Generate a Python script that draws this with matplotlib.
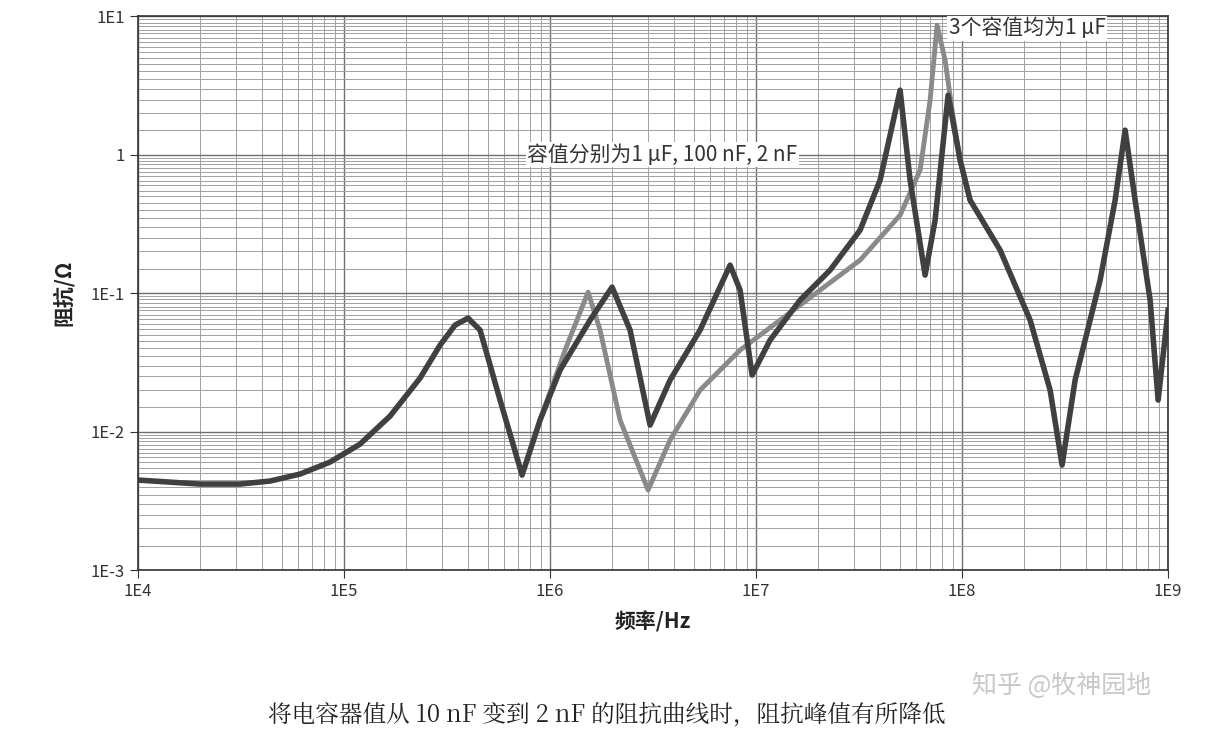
import numpy as np
import matplotlib.pyplot as plt
from matplotlib.ticker import FixedLocator, FixedFormatter, NullFormatter

plt.rcParams['font.family'] = ['Noto Sans CJK SC', 'DejaVu Sans']

# pixel-read points converted to log10 values
x0, xd = 138, 206.0
y0, yd = 16, 138.5

dark_px = [(138,480),(200,484),(240,484),(270,481),(300,474),(330,462),(360,444),(390,416),
           (420,378),(440,345),(455,325),(468,318),(480,330),(500,400),(522,475),(540,420),
           (560,370),(590,320),(612,287),(630,330),(650,425),(670,380),(700,330),(730,265),
           (740,290),(752,375),(770,340),(800,300),(830,270),(860,230),(880,180),(900,90),
           (910,180),(925,275),(935,220),(948,95),(960,160),(970,200),(1000,250),(1030,320),
           (1050,390),(1062,465),(1075,380),(1100,280),(1115,200),(1125,130),(1135,200),
           (1150,300),(1158,400),(1168,310)]
light_px = [(540,420),(565,350),(588,292),(600,330),(620,420),(648,490),(670,440),(700,390),
            (740,350),(780,320),(820,290),(860,260),(900,215),(920,170),(930,100),(937,25),
            (945,60),(952,110),(960,160),(970,200)]

def conv(pts):
    f = np.array([10 ** (4 + (p[0] - x0) / xd) for p in pts])
    z = np.array([10 ** (1 - (p[1] - y0) / yd) for p in pts])
    return f, z

f_dark, z_dark = conv(dark_px)
f_light, z_light = conv(light_px)

fig = plt.figure(figsize=(12.13, 7.36), dpi=100)
ax = fig.add_axes([0.1138, 0.2255, 0.8492, 0.7525])
ax.set_xscale('log')
ax.set_yscale('log')
ax.set_xlim(1e4, 1e9)
ax.set_ylim(1e-3, 1e1)

ax.plot(f_light, z_light, color='#8a8a8a', lw=3.5, solid_joinstyle='round')
ax.plot(f_dark, z_dark, color='#404040', lw=4, solid_joinstyle='round')

ax.xaxis.set_major_locator(FixedLocator([1e4, 1e5, 1e6, 1e7, 1e8, 1e9]))
ax.xaxis.set_major_formatter(FixedFormatter(['1E4', '1E5', '1E6', '1E7', '1E8', '1E9']))
ax.yaxis.set_major_locator(FixedLocator([1e-3, 1e-2, 1e-1, 1, 1e1]))
ax.yaxis.set_major_formatter(FixedFormatter(['1E-3', '1E-2', '1E-1', '1', '1E1']))
xmin = [m * 10 ** d for d in range(4, 9) for m in range(2, 10)]
ymin = [m * 10 ** d for d in range(-3, 1) for m in np.arange(1.5, 10, 0.5)]
ax.xaxis.set_minor_locator(FixedLocator(xmin))
ax.yaxis.set_minor_locator(FixedLocator(ymin))
ax.xaxis.set_minor_formatter(NullFormatter())
ax.yaxis.set_minor_formatter(NullFormatter())
ax.grid(which='major', color='#707070', lw=1.0)
ax.grid(which='minor', color='#a0a0a0', lw=0.7)
ax.tick_params(which='minor', length=0)
ax.tick_params(which='major', direction='out', length=6, labelsize=12, colors='#333333')
for s in ax.spines.values():
    s.set_color('#333333')
    s.set_linewidth(1.2)

ax.set_xlabel('频率/Hz', fontsize=15, color='#222222', fontweight='bold', labelpad=8)
ax.set_ylabel('阻抗/Ω', fontsize=15, color='#222222', fontweight='bold', labelpad=12)

ax.text(3.5e6, 1.0, '容值分别为1 μF, 100 nF, 2 nF', fontsize=15, color='#333333',
        ha='center', va='center',
        bbox=dict(facecolor='white', edgecolor='none', pad=1))
ax.text(8.6e7, 8.2, '3个容值均为1 μF', fontsize=15, color='#333333', ha='left', va='center',
        bbox=dict(facecolor='white', edgecolor='none', pad=1))

fig.text(0.5, 0.03, '将电容器值从 10 nF 变到 2 nF 的阻抗曲线时，阻抗峰值有所降低',
         fontsize=17, color='#222222', ha='center', va='center',
         family=['Noto Serif CJK SC', 'Noto Sans CJK SC', 'DejaVu Sans'])
fig.text(0.875, 0.068, '知乎 @牧神园地', fontsize=18, color='#c8c8c8', ha='center', va='center')

fig.savefig('out.png', dpi=100)
